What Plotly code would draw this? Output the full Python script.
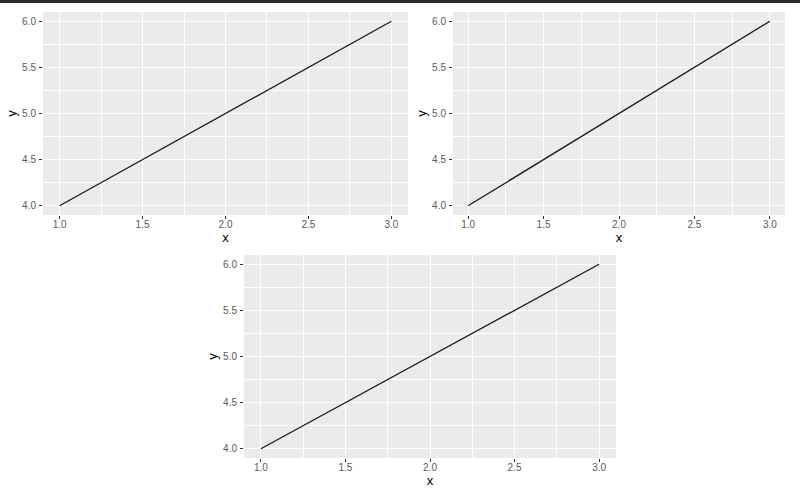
import plotly.graph_objects as go

# data
x_vals = [1, 2, 3]
y_vals = [4, 5, 6]
x_ticks = [1.0, 1.5, 2.0, 2.5, 3.0]
y_ticks = [4.0, 4.5, 5.0, 5.5, 6.0]
x_minor = [1.25, 1.75, 2.25, 2.75]
y_minor = [4.25, 4.75, 5.25, 5.75]

W, H = 800, 498

def px_x(a):
    return a / W

def px_y(a):
    return 1 - a / H

# panel boxes in pixels: (left, right, top, bottom)
panels = [
    (43, 408, 12, 215),
    (453, 785, 12, 215),
    (244, 616, 255, 458),
]

FONT = "Liberation Sans, Arial"

fig = go.Figure()

for i, (l, r, t, b) in enumerate(panels):
    n = "" if i == 0 else str(i + 1)
    fig.add_trace(go.Scatter(
        x=x_vals, y=y_vals, mode="lines",
        line=dict(color="#1a1a1a", width=1.3),
        xaxis="x" + n, yaxis="y" + n, showlegend=False,
    ))
    common = dict(
        showgrid=True, gridcolor="white", gridwidth=1.2,
        zeroline=False, showline=False,
        ticks="outside", ticklen=3, tickwidth=1, tickcolor="#333333",
        tickfont=dict(family=FONT, size=10, color="#5a5a5a"),
        title_font=dict(family=FONT, size=13, color="black"),
    )
    xa = dict(common, domain=[px_x(l), px_x(r)], range=[0.9, 3.1],
              tickvals=x_ticks, ticktext=["%.1f" % v for v in x_ticks],
              ticklabelstandoff=-3,
              anchor="y" + n, title=dict(text="x", standoff=1),
              minor=dict(showgrid=True, gridcolor="white", gridwidth=0.5,
                         tickvals=x_minor, ticks=""))
    ya = dict(common, domain=[px_y(b), px_y(t)], range=[3.9, 6.1],
              tickvals=y_ticks, ticktext=["%.1f" % v for v in y_ticks],
              ticklabelstandoff=1,
              anchor="x" + n, title=dict(text="y", standoff=2),
              minor=dict(showgrid=True, gridcolor="white", gridwidth=0.5,
                         tickvals=y_minor, ticks=""))
    fig.update_layout({"xaxis" + n: xa, "yaxis" + n: ya})

fig.update_layout(
    width=W, height=H,
    margin=dict(l=0, r=0, t=0, b=0),
    paper_bgcolor="white",
    plot_bgcolor="#ebebeb",
    shapes=[dict(type="rect", xref="paper", yref="paper",
                 x0=0, x1=1, y0=px_y(3), y1=1,
                 fillcolor="#2b2b2b", line=dict(width=0), layer="above")],
)

fig.write_html("out.html", config={"displayModeBar": False},
               post_script="document.body.style.margin='0';")
